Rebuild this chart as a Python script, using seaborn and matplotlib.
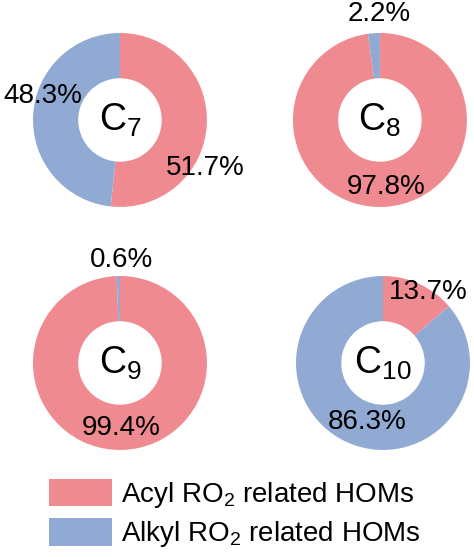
import matplotlib
matplotlib.use("Agg")
import matplotlib.pyplot as plt
import seaborn as sns
from matplotlib.patches import Patch

# Anteile (%) pro Kohlenstoffzahl
groups = ["7", "8", "9", "10"]
acyl = [51.7, 97.8, 99.4, 13.7]
alkyl = [48.3, 2.2, 0.6, 86.3]
series_names = ["Acyl RO$_2$ related HOMs", "Alkyl RO$_2$ related HOMs"]

sns.set_style("white")
plt.rcParams["font.family"] = ["Liberation Sans", "DejaVu Sans"]
plt.rcParams["mathtext.fontset"] = "custom"
plt.rcParams["mathtext.rm"] = "Liberation Sans"
plt.rcParams["mathtext.it"] = "Liberation Sans"
plt.rcParams["text.color"] = "black"

colors = sns.color_palette(["#ef8a90", "#91aad3"])

# Lage der Achsen (Bruchteile der Abbildung) und der Prozent-Beschriftungen (in Radien)
axes_pos = [
    [0.0696, 0.6284, 0.367, 0.3124],
    [0.618, 0.6284, 0.367, 0.3124],
    [0.0696, 0.1921, 0.367, 0.3124],
    [0.6245, 0.1921, 0.367, 0.3124],
]
acyl_lbl = [(0.977, -0.55), (0.07, -0.77), (0.01, -0.75), (0.52, 0.82)]
alkyl_lbl = [(-0.885, 0.276), (-0.01, 1.22), (0.02, 1.18), (-0.18, -0.68)]

fig = plt.figure(figsize=(4.74, 5.57), dpi=100)

for i, g in enumerate(groups):
    ax = fig.add_axes(axes_pos[i])
    ax.pie([acyl[i], alkyl[i]], colors=colors, startangle=90, counterclock=False,
           radius=1, wedgeprops=dict(width=0.52, linewidth=0))
    ax.set_xlim(-1, 1)
    ax.set_ylim(-1, 1)
    ax.set_aspect("equal")
    ax.axis("off")
    ax.text(0, 0, r"$\mathregular{C_{%s}}$" % g, ha="center", va="center",
            fontsize=27, color="black")
    ax.text(*acyl_lbl[i], f"{acyl[i]:.1f}%", ha="center", va="center",
            fontsize=20, color="black")
    ax.text(*alkyl_lbl[i], f"{alkyl[i]:.1f}%", ha="center", va="center",
            fontsize=20, color="black")

handles = [Patch(facecolor=c, edgecolor="none") for c in colors]
leg = fig.legend(handles, series_names, loc="center", bbox_to_anchor=(0.496, 0.077),
                 frameon=False, fontsize=20, handlelength=2.27, handleheight=1.15,
                 handletextpad=0.32, labelspacing=0.3)
for t in leg.get_texts():
    t.set_color("black")

plt.savefig("out.png", dpi=100)
